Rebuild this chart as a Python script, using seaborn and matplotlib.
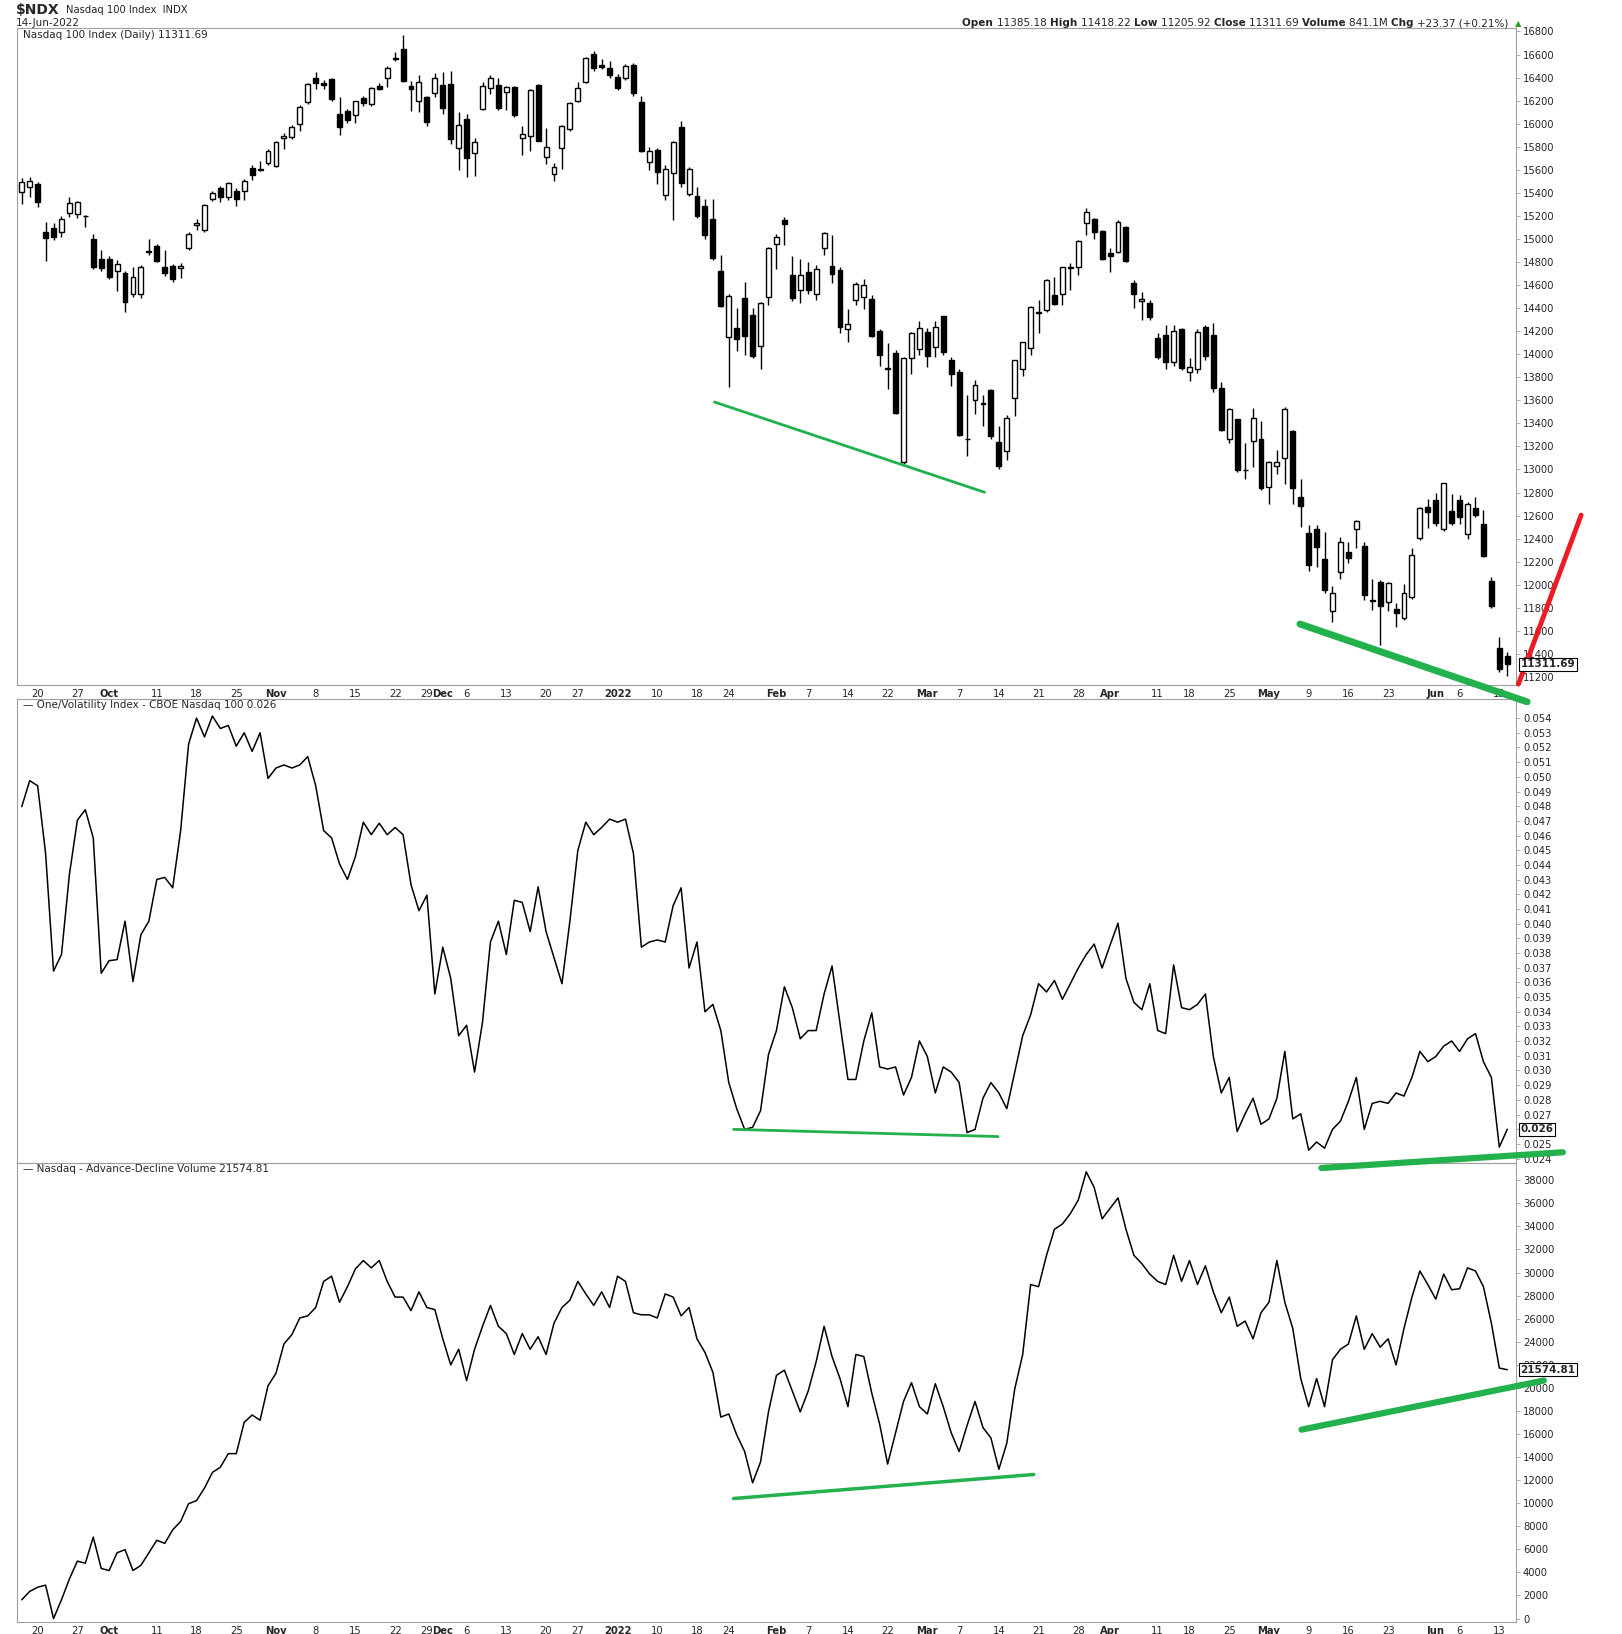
import numpy as np
import pandas as pd
import matplotlib
matplotlib.use("Agg")
import matplotlib.pyplot as plt
import matplotlib.transforms as mtrans
import seaborn as sns

sns.set_style("white")
plt.rcParams['font.family'] = ['DejaVu Sans']

holidays = ["2021-11-25", "2021-12-24", "2022-01-17", "2022-02-21", "2022-04-15", "2022-05-30"]
dates = pd.bdate_range("2021-09-16", "2022-06-14")
dates = dates[~dates.isin(pd.to_datetime(holidays))]

opens = [15410,15448,15474,15064,15092,15064,15222,15217,15200,14997,14824,14824,14722,14702,14520,14520,14885,14939,14754,14766,
         14749,14919,15120,15078,15344,15442,15361,15416,15413,15613,15595,15662,15633,15873,15882,15994,16185,16393,16350,16384,
         16084,16110,16072,16220,16168,16326,16393,16560,16647,16326,16197,16228,16263,16335,16344,15786,16037,15743,16127,16312,
         16335,16272,16315,15873,15896,16335,15708,15561,15786,15957,16199,16358,16604,16508,16480,16407,16393,16511,16188,15668,
         15772,15381,15575,15968,15387,15373,15286,15173,14720,14147,14225,14485,14341,14075,14494,14954,15165,14688,14559,14711,
         14520,14919,14766,14731,14222,14468,14500,14480,14202,13880,14009,13061,13965,14043,14191,14061,14329,13951,13844,13265,
         13604,13575,13688,13240,13159,13618,13870,14052,14360,14381,14511,14520,14748,14754,15136,15173,15066,14880,14890,15107,
         14620,14460,14442,14139,14168,13931,14217,13847,13870,14234,14165,13705,13263,13439,12995,13249,13263,12847,13032,13098,
         13332,12760,12448,12483,12225,11769,12110,12283,12483,12338,11865,12026,11847,11789,11711,11890,12402,12673,12734,12483,
         12642,12734,12439,12665,12526,12029,11451,11385]
highs = [15530,15540,15490,15150,15140,15200,15360,15330,15210,15040,14900,14850,14820,14720,14760,14770,15000,14960,14900,14780,
         14790,15060,15170,15300,15420,15460,15490,15440,15520,15640,15680,15780,15850,15920,15990,16160,16350,16450,16380,16400,
         16230,16130,16200,16240,16320,16350,16500,16620,16770,16370,16420,16240,16440,16450,16460,16100,16080,15880,16360,16420,
         16400,16330,16330,15980,16300,16340,15960,15660,15990,16190,16360,16580,16630,16560,16540,16430,16520,16530,16240,15800,
         15790,15640,15850,16020,15620,15450,15350,15350,14860,14520,14400,14630,14400,14450,14930,15040,15190,14850,14830,14800,
         14770,15060,15030,14760,14390,14630,14650,14510,14220,14100,14040,13980,14190,14290,14230,14290,14330,13980,13870,13650,
         13780,13650,13700,13380,13470,13950,14110,14420,14470,14650,14670,14760,14790,14990,15270,15180,15080,14920,15160,15110,
         14640,14540,14470,14180,14250,14250,14230,13970,14220,14250,14270,13760,13530,13440,13230,13530,13420,13070,13170,13540,
         13340,12920,12520,12520,12460,11990,12410,12370,12560,12370,12050,12040,12020,11840,12010,12320,12670,12740,12800,12885,
         12790,12780,12720,12760,12650,12070,11550,11418]
lows = [15300,15360,15280,14812,14990,15020,15190,15180,15100,14740,14720,14650,14550,14370,14500,14490,14860,14800,14680,14630,
        14660,14900,15080,15060,15330,15320,15340,15290,15340,15510,15590,15640,15620,15780,15870,15940,16170,16300,16300,16200,
        15900,16010,16010,16150,16150,16290,16320,16540,16360,16110,16100,15980,16230,16080,15820,15600,15540,15550,16120,16260,
        16120,16120,16060,15730,15760,15850,15650,15500,15610,15940,16190,16350,16460,16470,16400,16290,16380,16240,15750,15600,
        15480,15340,15160,15450,15370,15180,15000,14820,14410,13714,14030,13990,13970,13870,14430,14740,14950,14460,14440,14520,
        14470,14860,14620,14180,14110,14430,14390,14150,13900,13700,13480,13050,13830,13990,13890,13980,13990,13720,13290,13120,
        13480,13380,13260,13000,13080,13460,13810,13990,14180,14370,14430,14430,14560,14690,15030,15000,14820,14710,14880,14800,
        14400,14300,14300,13960,13870,13900,13860,13770,13840,13950,13670,13330,13230,12980,12920,13020,12820,12700,12960,12870,
        12700,12500,12120,12150,11930,11680,12050,12190,12320,11870,11780,11480,11770,11630,11690,11880,12390,12490,12510,12470,
        12520,12530,12400,12590,12240,11800,11240,11206]
closes = [15497,15506,15324,15006,15020,15170,15309,15318,15195,14760,14746,14673,14780,14457,14667,14754,14893,14812,14702,14650,
          14766,15043,15136,15295,15402,15367,15483,15344,15506,15552,15600,15766,15844,15896,15968,16141,16341,16355,16335,16211,
          15974,16029,16196,16182,16306,16303,16480,16565,16373,16303,16364,16017,16393,16133,15870,15985,15705,15838,16326,16393,
          16139,16321,16075,15908,16292,15853,15795,15627,15977,16176,16306,16566,16485,16488,16422,16312,16500,16269,15766,15760,
          15584,15604,15838,15488,15604,15202,15035,14838,14422,14503,14136,14162,13988,14442,14922,15017,15133,14491,14685,14561,
          14737,15049,14693,14240,14260,14610,14598,14162,13997,13873,13494,13968,14182,14225,13988,14234,14023,13824,13303,13260,
          13731,13569,13286,13026,13445,13948,14104,14407,14364,14642,14433,14754,14751,14980,15231,15063,14829,14855,15150,14812,
          14520,14480,14321,13980,13931,14205,13876,13893,14196,13988,13705,13338,13523,12991,12991,13445,12835,13064,13069,13523,
          12835,12679,12168,12327,11951,11928,12370,12228,12555,11908,11861,11812,12015,11752,11928,12254,12665,12630,12532,12882,
          12532,12587,12700,12601,12251,11812,11269,11311]

inv_vxn = [0.04797,0.04974,0.04939,0.04478,0.03677,0.0379,0.04336,0.04705,0.04776,0.04584,0.03662,0.03748,0.03755,0.04017,0.03606,
           0.03925,0.04017,0.04301,0.04315,0.04244,0.04634,0.05223,0.054,0.05272,0.05414,0.05329,0.0535,0.05209,0.053,0.05173,
           0.053,0.04989,0.0506,0.05081,0.0506,0.05081,0.05138,0.04939,0.04634,0.04584,0.04407,0.04301,0.04457,0.04691,0.04606,
           0.04684,0.04606,0.04655,0.04606,0.04265,0.04088,0.04194,0.03521,0.0384,0.03627,0.03237,0.03308,0.02989,0.03329,0.03875,
           0.04017,0.0379,0.04159,0.04145,0.03946,0.04251,0.03946,0.03769,0.03591,0.04017,0.04499,0.04691,0.04606,0.04655,0.04712,
           0.04691,0.04712,0.04478,0.0384,0.03875,0.03889,0.03875,0.04123,0.04244,0.03698,0.03875,0.034,0.0345,0.03272,0.02918,
           0.0274,0.02599,0.02613,0.02726,0.03109,0.03272,0.0357,0.03428,0.03216,0.03272,0.03272,0.03521,0.03712,0.03322,0.02939,
           0.02939,0.03201,0.03393,0.03024,0.0301,0.03024,0.02833,0.02953,0.03201,0.03095,0.02847,0.03024,0.02989,0.02918,0.02577,
           0.02599,0.02811,0.02918,0.02847,0.0274,0.02989,0.03237,0.03379,0.03591,0.03535,0.03613,0.03485,0.03591,0.03698,0.0379,
           0.03861,0.03698,0.03854,0.04003,0.03627,0.03464,0.03414,0.03591,0.03272,0.03251,0.03719,0.03428,0.03414,0.0345,0.03521,
           0.03095,0.02847,0.02953,0.02584,0.02705,0.02811,0.02634,0.0267,0.02811,0.0313,0.0267,0.02705,0.02457,0.02513,0.02471,
           0.02599,0.02655,0.0279,0.02953,0.02599,0.02776,0.0279,0.02776,0.02847,0.02826,0.02953,0.0313,0.0306,0.03095,0.03166,
           0.03201,0.0313,0.03216,0.03251,0.0306,0.02953,0.02478,0.026]

ad_volume = [1629,2353,2715,2896,0,1629,3439,4978,4797,7059,4344,4163,5702,5973,4163,4616,5702,6788,6516,7693,
             8417,9955,10227,11313,12670,13123,14299,14299,17014,17648,17195,20182,21268,23802,24616,26064,26245,26969,29232,29684,
             27422,28779,30318,31042,30408,31042,29232,27874,27874,26698,28327,26969,26788,24254,21992,23349,20634,23349,25340,27150,
             25340,24707,22897,24707,23349,24435,22897,25612,26969,27603,29232,28146,27150,28327,26969,29684,29232,26517,26336,26336,
             26064,28146,27874,26245,26969,24254,23078,21358,17467,17738,15928,14480,11765,13575,17919,21087,21539,19729,17919,19729,
             22263,25340,22716,20815,18372,22897,22716,19548,16833,13394,16109,18824,20453,18372,17738,20363,18372,16109,14480,16743,
             18824,16562,15657,12942,15204,19910,22897,28960,28779,31494,33757,34209,35114,36291,38734,37377,34662,35567,36472,33757,
             31494,30770,29865,29232,28960,31494,29232,31042,28960,30589,28327,26517,27874,25340,25793,24254,26517,27422,31042,27422,
             25159,20815,18372,20815,18372,22444,23349,23802,26245,23349,24707,23530,24254,21992,25159,27874,30137,28960,27693,29865,
             28508,28598,30408,30137,28779,25612,21720,21575]

# trendline annotations: (start index, start value, end index, end value, color, width)
top_trends = [(87.2, 13585, 121.2, 12802, "#22b14c", 2.0),
              (160.9, 11659, 189.5, 10984, "#22b14c", 5.0),
              (188.4, 11137, 196.3, 12604, "#ed1c24", 3.5)]
mid_trends = [(89.6, 0.02599, 122.9, 0.0255, "#22b14c", 2.0),
              (163.6, 0.02336, 194.0, 0.02443, "#22b14c", 4.5)]
bot_trends = [(89.6, 10408, 127.4, 12489, "#22b14c", 2.5),
              (161.1, 16380, 191.6, 20634, "#22b14c", 4.5)]

tick_dates = ["2021-09-20","2021-09-27","2021-10-01","2021-10-11","2021-10-18","2021-10-25","2021-11-01","2021-11-08",
              "2021-11-15","2021-11-22","2021-11-29","2021-12-01","2021-12-06","2021-12-13","2021-12-20","2021-12-27",
              "2022-01-03","2022-01-10","2022-01-18","2022-01-24","2022-02-01","2022-02-07","2022-02-14","2022-02-22",
              "2022-03-01","2022-03-07","2022-03-14","2022-03-21","2022-03-28","2022-04-01","2022-04-11","2022-04-18",
              "2022-04-25","2022-05-02","2022-05-09","2022-05-16","2022-05-23","2022-06-01","2022-06-06","2022-06-13"]
tick_labels = ["20","27","Oct","11","18","25","Nov","8","15","22","29","Dec","6","13","20","27","2022","10","18","24",
               "Feb","7","14","22","Mar","7","14","21","28","Apr","11","18","25","May","9","16","23","Jun","6","13"]

n = len(closes)
idx = np.arange(n)
df = pd.DataFrame({"i": idx, "o": opens, "h": highs, "l": lows, "c": closes,
                   "v": inv_vxn, "a": ad_volume})
tick_pos = [int(np.searchsorted(dates, pd.Timestamp(d))) for d in tick_dates]

W, H = 1622, 1634
fig = plt.figure(figsize=(W/100, H/100), dpi=100)
L, R = 17/W, 1516/W
def box(top_px, bot_px):
    return [L, 1-bot_px/H, R-L, (bot_px-top_px)/H]
ax3 = fig.add_axes(box(1163, 1622))
ax2 = fig.add_axes(box(699, 1163))
ax1 = fig.add_axes(box(28, 685))

gray = "#a0a0a0"
fs = 7.2
for ax in (ax1, ax2, ax3):
    ax.set_facecolor("none")
    ax.set_xlim(-0.6, 188.1)
    for s in ax.spines.values():
        s.set_color(gray); s.set_linewidth(0.8)
    ax.yaxis.tick_right()
    ax.tick_params(axis='y', direction='out', length=3, width=0.6, color=gray, labelsize=fs, pad=2)
    ax.tick_params(axis='x', direction='in', length=0, labelsize=fs, pad=3)

# candlesticks
up = df[df.c >= df.o]
dn = df[df.c < df.o]
ax1.vlines(df.i, df.l, df.h, color="black", linewidth=1.0, zorder=1)
ax1.bar(up.i, (up.c - up.o).clip(lower=8), bottom=up.o, width=0.62, color="white", edgecolor="black", linewidth=1.0, zorder=2)
ax1.bar(dn.i, (dn.o - dn.c).clip(lower=8), bottom=dn.c, width=0.62, color="black", edgecolor="black", linewidth=1.0, zorder=2)
ax1.set_ylim(11130, 16830)
ax1.set_yticks(np.arange(11200, 16801, 200))
ax1.set_yticklabels([str(v) for v in range(11200, 16801, 200)])

sns.lineplot(data=df, x="i", y="v", ax=ax2, color="black", linewidth=1.1)
ax2.set_ylim(0.0237, 0.0553)
t2 = np.round(np.arange(0.024, 0.0541, 0.001), 3)
ax2.set_yticks(t2)
ax2.set_yticklabels([f"{v:.3f}" for v in t2])

sns.lineplot(data=df, x="i", y="a", ax=ax3, color="black", linewidth=1.1)
ax3.set_ylim(-300, 39500)
t3 = np.arange(0, 38001, 2000)
ax3.set_yticks(t3)
ax3.set_yticklabels([str(v) for v in t3])

for ax in (ax1, ax2, ax3):
    ax.set_xlabel(""); ax.set_ylabel("")
bold = {"Oct","Nov","Dec","2022","Feb","Mar","Apr","May","Jun"}
for ax in (ax1, ax3):
    ax.set_xticks(tick_pos)
    ax.set_xticklabels(tick_labels)
    for lab in ax.get_xticklabels():
        if lab.get_text() in bold:
            lab.set_fontweight("bold")
ax2.set_xticks([])

for ax, trends in ((ax1, top_trends), (ax2, mid_trends), (ax3, bot_trends)):
    for x0, y0, x1, y1, col, lw in trends:
        ax.plot([x0, x1], [y0, y1], color=col, linewidth=lw, solid_capstyle="round", clip_on=False, zorder=5)

# last value boxes
for ax, val, txt in ((ax1, closes[-1], "11311.69"), (ax2, inv_vxn[-1], "0.026"), (ax3, ad_volume[-1], "21574.81")):
    tr = mtrans.blended_transform_factory(ax.transAxes, ax.transData)
    ax.text(1.003, val, txt, transform=tr, fontsize=7.5, fontweight="bold", va="center", ha="left",
            bbox=dict(boxstyle="square,pad=0.15", fc="white", ec="black", lw=0.8), zorder=10, clip_on=False)

# legends inside panels
ax1.text(0.004, 0.997, "Nasdaq 100 Index (Daily) 11311.69", transform=ax1.transAxes, fontsize=7.5, va="top")
ax2.text(0.004, 0.997, "\u2014 One/Volatility Index - CBOE Nasdaq 100 0.026", transform=ax2.transAxes, fontsize=7.5, va="top")
ax3.text(0.004, 0.997, "\u2014 Nasdaq - Advance-Decline Volume 21574.81", transform=ax3.transAxes, fontsize=7.5, va="top")

# header
fig.text(16/W, 1-3/H, "$NDX", fontsize=10, fontweight="bold", va="top", ha="left")
fig.text(66/W, 1-5/H, "Nasdaq 100 Index  INDX", fontsize=7.2, va="top", ha="left")
fig.text(16/W, 1-18/H, "14-Jun-2022", fontsize=7.5, va="top", ha="left")
parts = [("Open ", True), ("11385.18 ", False), ("High ", True), ("11418.22 ", False), ("Low ", True),
         ("11205.92 ", False), ("Close ", True), ("11311.69 ", False), ("Volume ", True), ("841.1M ", False),
         ("Chg ", True), ("+23.37 (+0.21%) ", False)]
xr = 1512/W
fig.canvas.draw()
renderer = fig.canvas.get_renderer()
x = xr
for txt, b in reversed(parts):
    t = fig.text(x, 1-18/H, txt, fontsize=7.5, fontweight="bold" if b else "normal", va="top", ha="right")
    bb = t.get_window_extent(renderer)
    x -= bb.width / (W)
fig.text(1515/W, 1-19/H, "\u25b2", fontsize=6, color="#2a9d2a", va="top", ha="left")

fig.savefig("out.png", dpi=100)
